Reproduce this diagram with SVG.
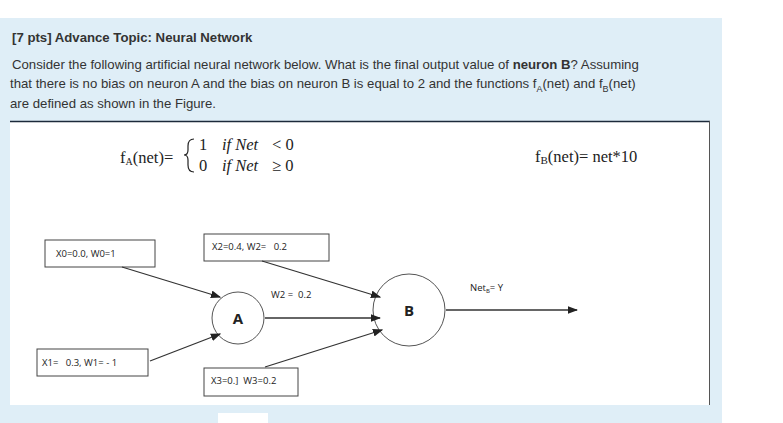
<svg xmlns="http://www.w3.org/2000/svg" width="783" height="423" viewBox="0 0 783 423">
<style>
text{white-space:pre}
.t{font-family:"Liberation Sans",Arial,sans-serif;font-size:13.2px;fill:#333}
.s{font-family:"Open Sans","Liberation Sans",sans-serif;font-size:9.5px;fill:#222}
.m{font-family:"Liberation Serif","Times New Roman",serif;font-size:16.5px;fill:#222}
.b{fill:#fff;stroke:#444;stroke-width:1}
.c{stroke:#333;stroke-width:1.3;fill:none;marker-end:url(#ar)}
</style>
<defs><marker id="ar" markerWidth="8" markerHeight="6" refX="7" refY="3" orient="auto"><path d="M0,0L8,3L0,6z" fill="#222"/></marker></defs>
<rect width="783" height="423" fill="#fff"/>
<rect x="0" y="18" width="722" height="405" fill="#dfeef7"/>
<text class="t" x="12" y="42" font-weight="bold">[7 pts] Advance Topic: Neural Network</text>
<text class="t" x="12" y="69">Consider the following artificial neural network below. What is the final output value of <tspan font-weight="bold">neuron B</tspan>? Assuming</text>
<text class="t" x="10" y="88">that there is no bias on neuron A and the bias on neuron B is equal to 2 and the functions f<tspan font-size="9" dy="4">A</tspan><tspan dy="-4">(net) and f</tspan><tspan font-size="9" dy="4">B</tspan><tspan dy="-4">(net)</tspan></text>
<text class="t" x="10" y="108">are defined as shown in the Figure.</text>
<rect x="10" y="121" width="700" height="284" fill="#fff"/>
<line x1="10" y1="121.5" x2="710" y2="121.5" stroke="#1c2a3a" stroke-width="1.5"/>
<line x1="709.5" y1="121" x2="709.5" y2="405" stroke="#555" stroke-width="1"/>
<rect x="218" y="413" width="50" height="10" fill="#fff"/>
<g id="formulaA">
<text class="m" x="120" y="163" font-size="15">f<tspan font-size="10" dy="2">A</tspan><tspan dy="-2">(net)=</tspan></text>
<path d="M194,139 Q188,139 188,146 L188,150 Q188,155 184,155 Q188,155 188,160 L188,165 Q188,172 194,172" fill="none" stroke="#222" stroke-width="1.2"/>
<text class="m" x="199" y="150">1</text><text class="m" x="222" y="150" font-style="italic">if Net</text><text class="m" x="272" y="150">&lt; 0</text>
<text class="m" x="199" y="171">0</text><text class="m" x="222" y="171" font-style="italic">if Net</text><text class="m" x="272" y="171">≥ 0</text>
</g>
<g id="formulaB"><text class="m" x="535" y="162">f<tspan font-size="11" dy="2">B</tspan><tspan dy="-2">(net)= net*10</tspan></text></g>
<g id="x0"><rect class="b" x="45" y="240" width="110" height="27"/><text class="s" x="56" y="257">X0=0.0, W0=1</text></g>
<g id="x2"><rect class="b" x="204" y="234" width="125" height="27"/><text class="s" x="212" y="250">X2=0.4, W2=   0.2</text></g>
<g id="x1"><rect class="b" x="37" y="349" width="111" height="27"/><text class="s" x="42" y="366">X1=   0.3, W1= - 1</text></g>
<g id="x3"><rect class="b" x="204" y="368" width="94" height="28"/><text class="s" x="211" y="384">X3=0.]  W3=0.2</text></g>
<g id="A"><circle cx="238" cy="318" r="26" fill="#fff" stroke="#555"/><text x="238" y="324" text-anchor="middle" font-family="Open Sans,sans-serif" font-size="15" font-weight="bold" fill="#222">A</text></g>
<g id="B"><circle cx="409" cy="310" r="36" fill="#fff" stroke="#555"/><text x="409" y="316" text-anchor="middle" font-family="Open Sans,sans-serif" font-size="15" font-weight="bold" fill="#222">B</text></g>
<g id="connectors">
<line class="c" x1="122" y1="267" x2="220" y2="297"/>
<line class="c" x1="150" y1="361" x2="220" y2="334"/>
<line class="c" x1="262" y1="261" x2="380" y2="297"/>
<line class="c" x1="265" y1="318" x2="380" y2="318"/>
<line class="c" x1="265" y1="367" x2="382" y2="330"/>
<line class="c" x1="446" y1="310" x2="577" y2="310"/>
</g>
<text class="s" x="271" y="298">W2 =  0.2</text>
<text class="s" x="470" y="291">Net<tspan font-size="6" dy="2">B</tspan><tspan dy="-2">= Y</tspan></text>
</svg>
